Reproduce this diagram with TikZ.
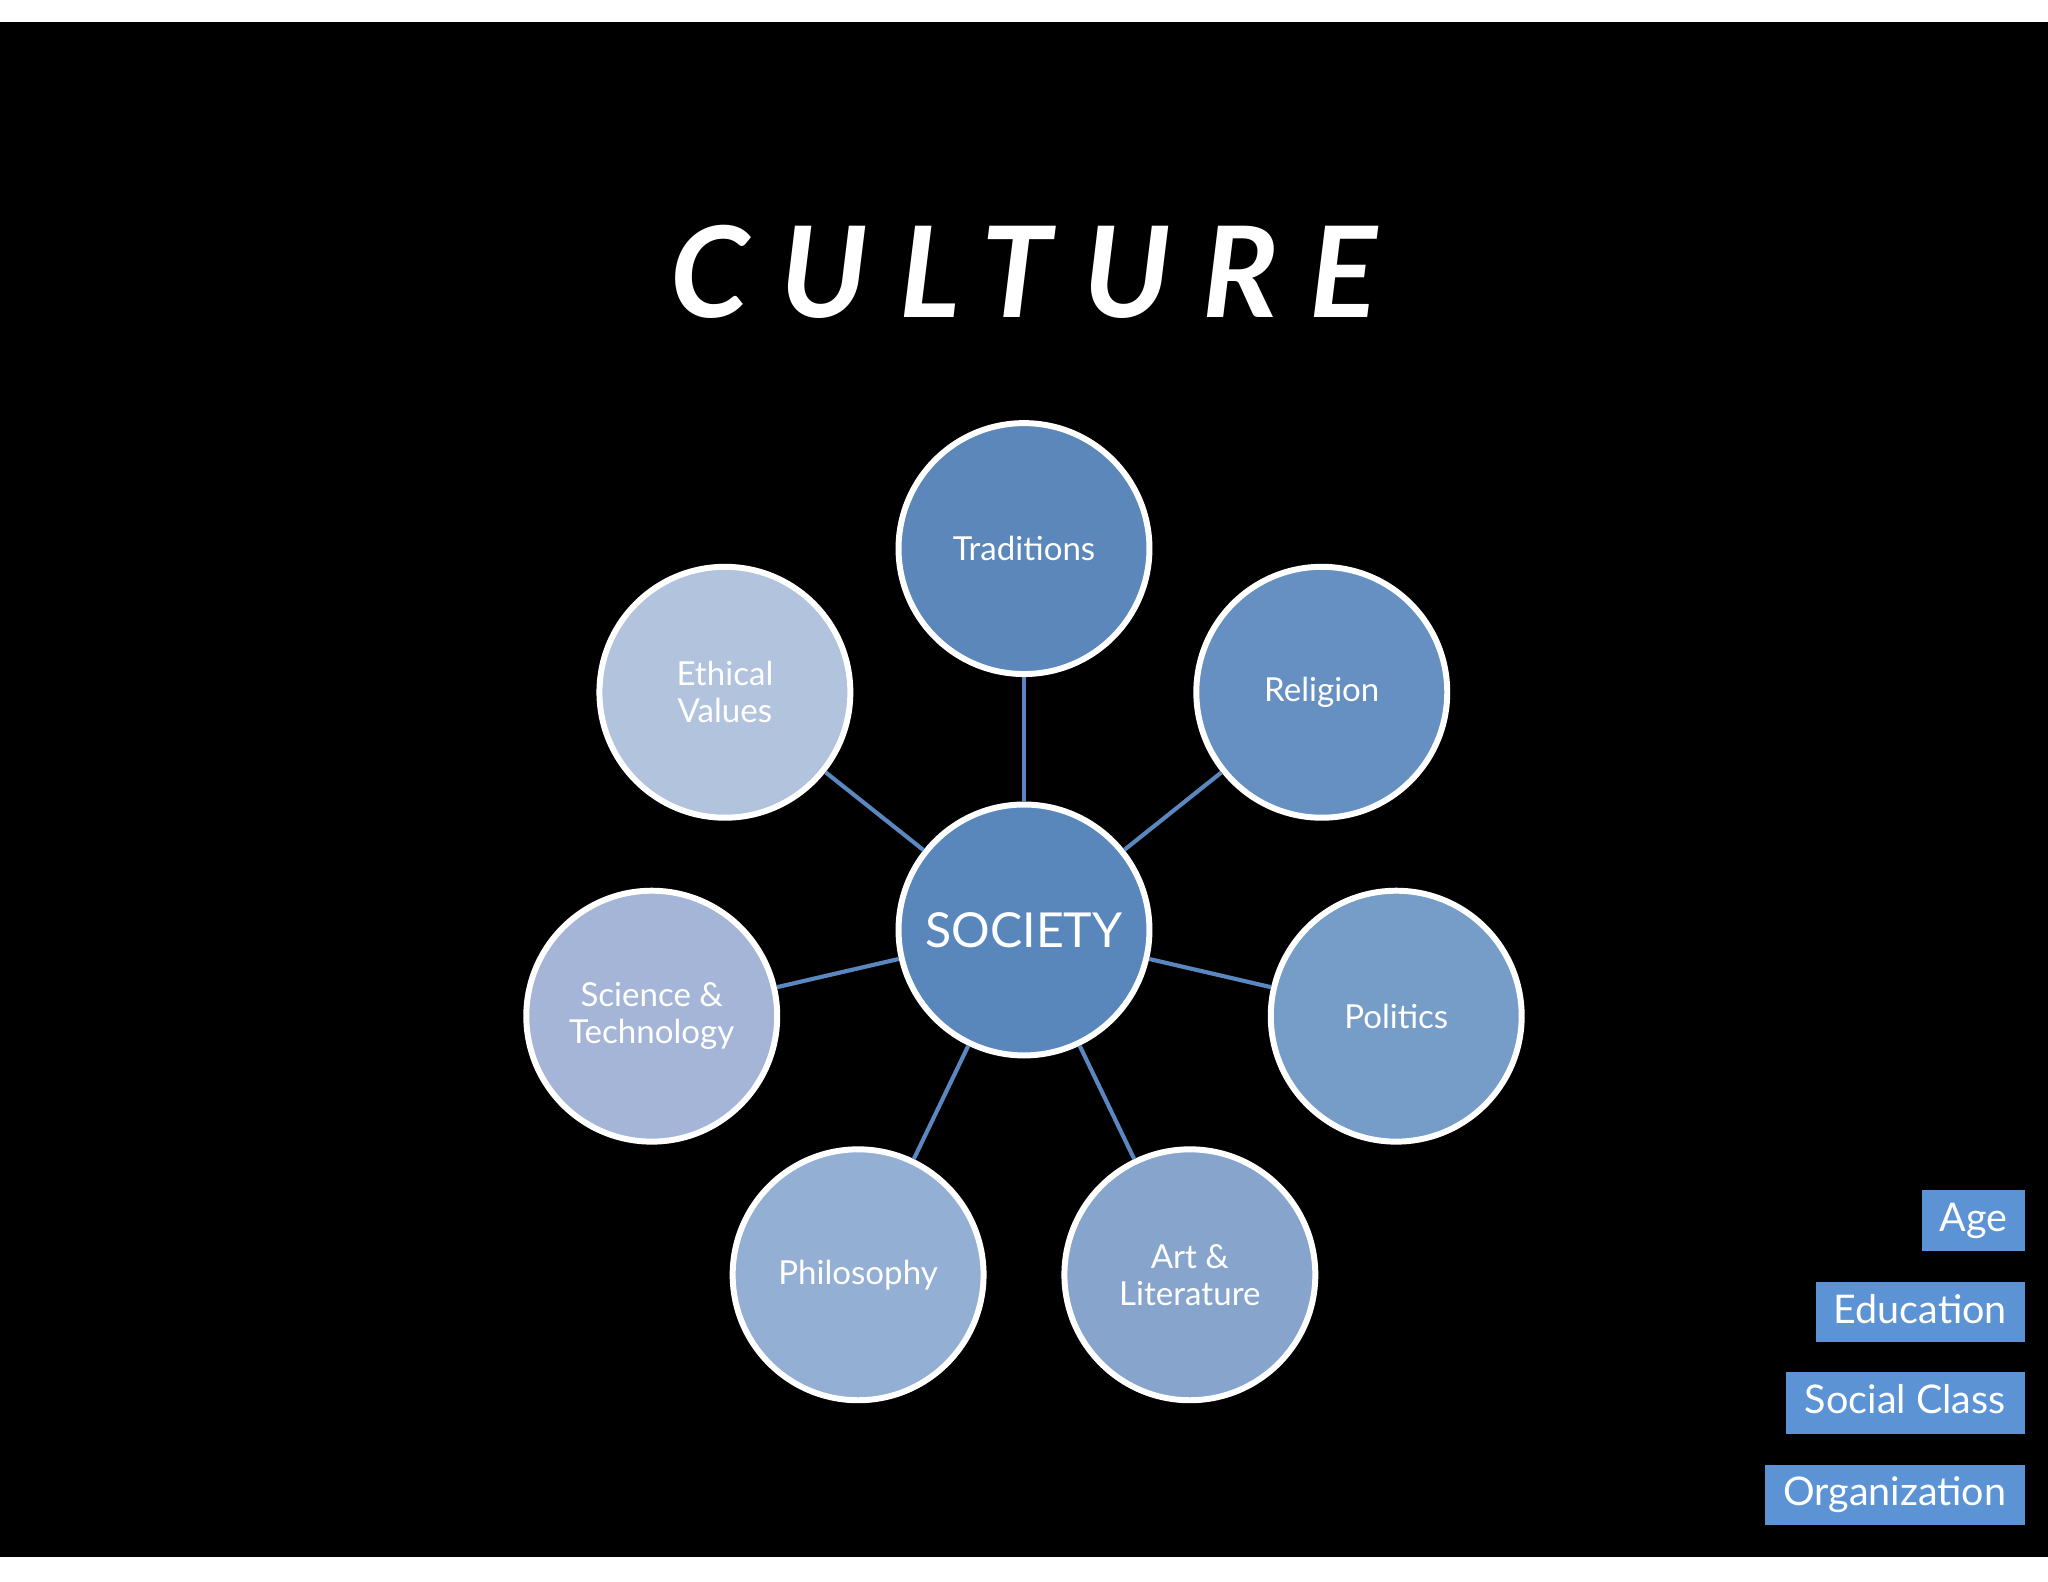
\documentclass[tikz,border=0pt]{standalone}
\usepackage{fontspec}
\setmainfont{Lato}
\newfontfamily\titlefont[LetterSpace=25]{Lato}
\definecolor{lnk}{HTML}{5B87C0}
\definecolor{boxc}{HTML}{5B93D5}
\begin{document}
\begin{tikzpicture}[x=0.01cm,y=-0.01cm,
  bub/.style={circle,draw=white,line width=1.3pt,minimum size=196\pgflinewidth,inner sep=0pt,text=white,font=\fontsize{7.2}{8}\selectfont,align=center,minimum size=1.92cm},
  tag/.style={fill=boxc,text=white,font=\fontsize{8.6}{9}\selectfont,anchor=north east,inner sep=0pt,text height=6.5pt,text depth=1.8pt},
  lk/.style={draw=lnk,line width=0.9pt}]
\useasboundingbox (0,0) rectangle (1568,1211);
\fill[white] (0,0) rectangle (1568,1211);
\fill[black] (0,17) rectangle (1568,1192);
\node[text=white,font=\titlefont\fontsize{27.5}{30}\selectfont\bfseries\itshape] (title) at (784,208) {CULTURE};
\node[bub,fill={rgb,255:red,90;green,135;blue,187},font=\fontsize{10.5}{12}\selectfont] (soc) at (784,712) {SOCIETY};
\node[bub,fill={rgb,255:red,91;green,135;blue,186}] (tra) at (784,420) {Traditions};
\node[bub,fill={rgb,255:red,102;green,144;blue,194}] (rel) at (1012,530) {Religion};
\node[bub,fill={rgb,255:red,118;green,157;blue,200}] (pol) at (1069,778) {Politics};
\node[bub,fill={rgb,255:red,135;green,165;blue,204}] (art) at (911,976) {Art \&\\Literature};
\node[bub,fill={rgb,255:red,148;green,175;blue,212}] (phi) at (657,976) {Philosophy};
\node[bub,fill={rgb,255:red,164;green,181;blue,216}] (sci) at (499,778) {Science \&\\Technology};
\node[bub,fill={rgb,255:red,178;green,195;blue,221}] (eth) at (555,530) {Ethical\\Values};
\foreach \n in {tra,rel,pol,art,phi,sci,eth} \draw[lk] (soc) -- (\n);
\node[tag,minimum width=0.79cm,minimum height=0.47cm] (age) at (1551,910) {Age};
\node[tag,minimum width=1.60cm,minimum height=0.46cm] (edu) at (1551,981) {Education};
\node[tag,minimum width=1.83cm,minimum height=0.47cm] (soccl) at (1551,1050) {Social Class};
\node[tag,minimum width=1.99cm,minimum height=0.46cm] (org) at (1551,1121) {Organization};
\end{tikzpicture}
\end{document}
